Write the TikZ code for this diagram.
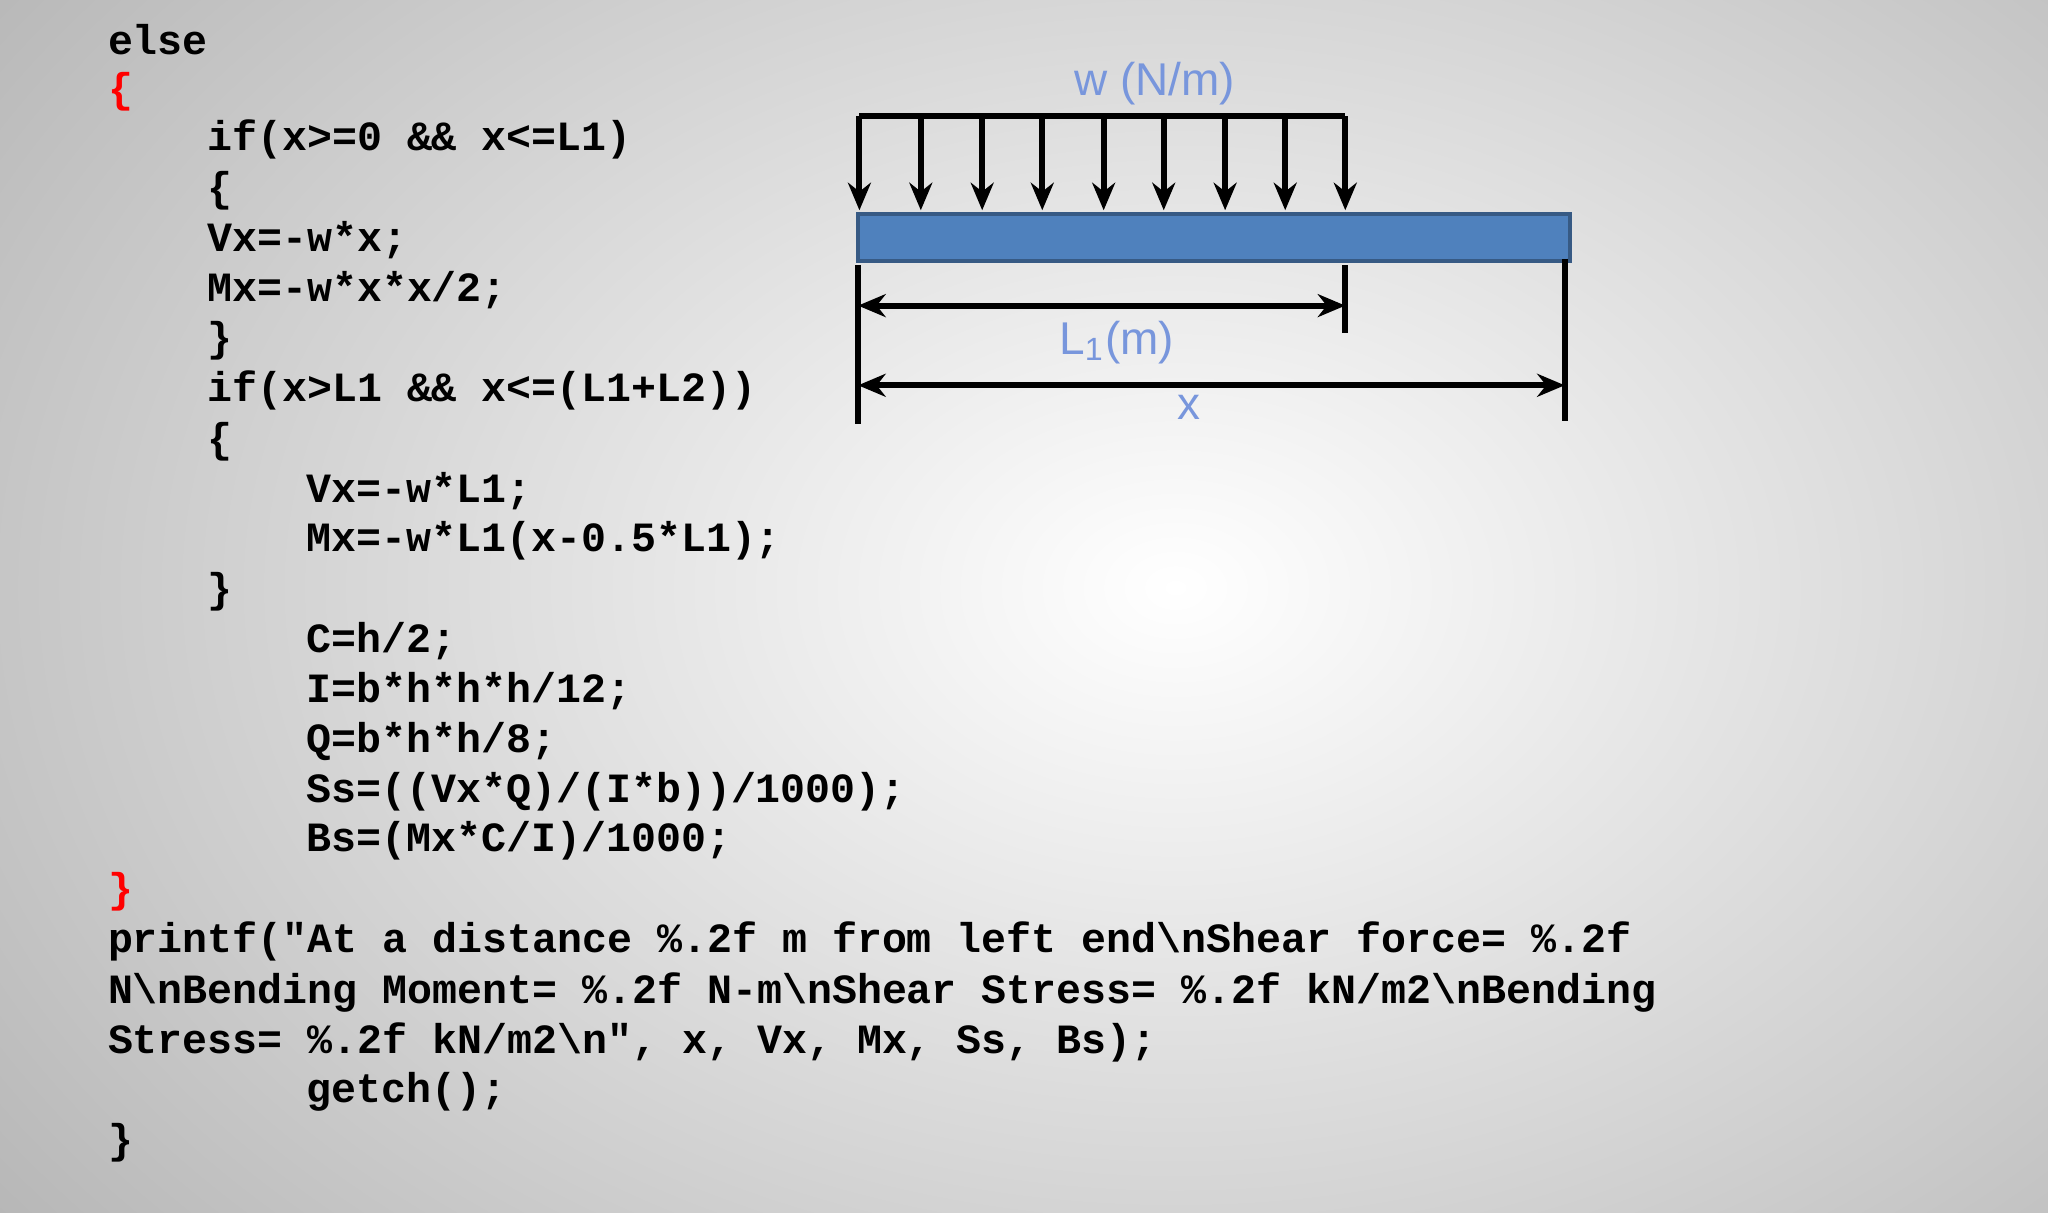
\documentclass[tikz,border=0pt]{standalone}
\usepackage{fontspec}
\setmonofont{Liberation Mono}
\setsansfont{Liberation Sans}
\usetikzlibrary{arrows.meta}
\definecolor{beam}{RGB}{79,129,189}
\definecolor{lbl}{RGB}{120,150,220}
\tikzset{
 code/.style={anchor=west,inner sep=0pt,font=\fontsize{9.06}{11}\selectfont\ttfamily\bfseries},
 load/.style={line width=1.3pt,-{Stealth[length=6pt,width=5pt]}},
 dim/.style={line width=1.3pt,{Stealth[length=6pt,width=5pt]}-{Stealth[length=6pt,width=5pt]}},
 ext/.style={line width=1.3pt},
 lab/.style={font=\sffamily\fontsize{10}{12}\selectfont,text=lbl,draw=none,inner sep=1pt}
}
\begin{document}
\begin{tikzpicture}[x=0.01cm,y=-0.01cm]
\useasboundingbox (0,0) rectangle (1568,928);
\shade[inner color=white,outer color=gray!60] (-300,-400) rectangle (2100,1300);
\clip (0,0) rectangle (1568,928);
\node[code] (l1) at (82,30) {else};
\node[code,text=red] (l2) at (82,70) {\{};
\node[code] (l3) at (158,107) {if(x>=0 \&\& x<=L1)};
\node[code] (l4) at (158,146) {\{};
\node[code] (l5) at (158,184) {Vx=-w*x;};
\node[code] (l6) at (158,222) {Mx=-w*x*x/2;};
\node[code] (l7) at (158,261) {\}};
\node[code] (l8) at (158,299) {if(x>L1 \&\& x<=(L1+L2))};
\node[code] (l9) at (158,338) {\{};
\node[code] (l10) at (234,376) {Vx=-w*L1;};
\node[code] (l11) at (234,414) {Mx=-w*L1(x-0.5*L1);};
\node[code] (l12) at (158,453) {\}};
\node[code] (l13) at (234,491) {C=h/2;};
\node[code] (l14) at (234,529) {I=b*h*h*h/12;};
\node[code] (l15) at (234,568) {Q=b*h*h/8;};
\node[code] (l16) at (234,606) {Ss=((Vx*Q)/(I*b))/1000);};
\node[code] (l17) at (234,644) {Bs=(Mx*C/I)/1000;};
\node[code,text=red] (l18) at (82,683) {\}};
\node[code] (l19) at (82,721) {printf("At a distance \%.2f m from left end\textbackslash nShear force= \%.2f};
\node[code] (l20) at (82,760) {N\textbackslash nBending Moment= \%.2f N-m\textbackslash nShear Stress= \%.2f kN/m2\textbackslash nBending};
\node[code] (l21) at (82,798) {Stress= \%.2f kN/m2\textbackslash n", x, Vx, Mx, Ss, Bs);};
\node[code] (l22) at (234,836) {getch();};
\node[code] (l23) at (82,875) {\}};
% beam
\node[draw=beam!70!black,fill=beam,line width=1pt,minimum width=5.45cm,minimum height=0.36cm,inner sep=0pt,anchor=north west] (bm) at (655,162) {};
\draw[ext] (658,89) -- (1030,89);
\foreach \i/\x in {1/658,2/705,3/752,4/798,5/845,6/891,7/938,8/984,9/1030}{
 \coordinate (t\i) at (\x,89); \coordinate (b\i) at (\x,161);
 \draw[load] (t\i) -- (b\i);}
\coordinate (e1a) at (657,203); \coordinate (e1b) at (657,325);
\coordinate (e2a) at (1030,203); \coordinate (e2b) at (1030,255);
\coordinate (e3a) at (1198,198); \coordinate (e3b) at (1198,322);
\draw[ext] (e1a)--(e1b); \draw[ext] (e2a)--(e2b); \draw[ext] (e3a)--(e3b);
\coordinate (d1a) at (657,234); \coordinate (d1b) at (1030,234);
\coordinate (d2a) at (657,295); \coordinate (d2b) at (1198,295);
\draw[dim] (d1a)--(d1b);
\draw[dim] (d2a)--(d2b);
\node[lab] (w) at (884,64) {w (N/m)};
\node[lab] (L) at (855,262) {L\textsubscript{1}(m)};
\node[lab] (xx) at (910,312) {x};
\end{tikzpicture}
\end{document}
